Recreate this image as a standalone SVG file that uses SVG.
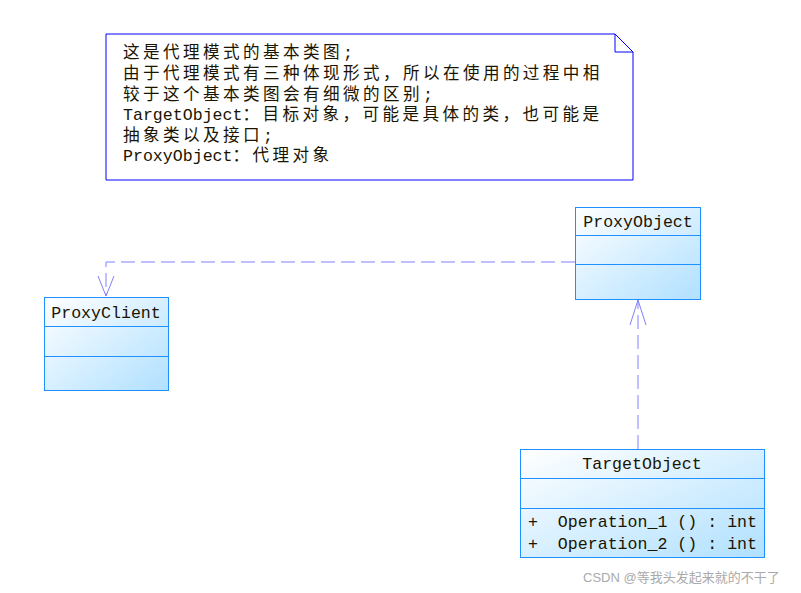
<svg xmlns="http://www.w3.org/2000/svg" width="801" height="593" viewBox="0 0 801 593">
<style>
text{font-family:"Liberation Mono","Noto Sans CJK SC",monospace;font-size:16.6px;fill:#1a1400;white-space:pre}
.z{letter-spacing:3.4px}
.box{stroke:#1e90ff;stroke-width:1;fill:url(#g)}
.ln{stroke:#1e90ff;stroke-width:1}
.c{stroke:#8080ff;stroke-width:1;fill:none;stroke-dasharray:14 6}
.ah{stroke:#8080ff;stroke-width:1;fill:none}
</style>
<defs>
<linearGradient id="g" x1="0" y1="0" x2="1" y2="1"><stop offset="0" stop-color="#ffffff"/><stop offset="1" stop-color="#b0e0ff"/></linearGradient>
</defs>
<rect width="801" height="593" fill="#fff"/>
<g id="note">
<path d="M106,34H615L633,52V180H106Z" fill="#fff" stroke="#0000ff"/>
<path d="M615,34V52H633" fill="none" stroke="#0000ff"/>
<text x="123" y="58"><tspan class="z">这是代理模式的基本类图</tspan>;</text>
<text x="123" y="79" class="z">由于代理模式有三种体现形式，所以在使用的过程中相</text>
<text x="123" y="100"><tspan class="z">较于这个基本类图会有细微的区别</tspan>;</text>
<text x="123" y="120">TargetObject<tspan class="z">：目标对象，可能是具体的类，也可能是</tspan></text>
<text x="123" y="141"><tspan class="z">抽象类以及接口</tspan>;</text>
<text x="123" y="161">ProxyObject<tspan class="z">：代理对象</tspan></text>
</g>
<g id="connectors">
<path class="c" d="M575,262H106V296"/>
<path class="ah" d="M98,276L106,296L114,276"/>
<path class="c" d="M638,449V300"/>
<path class="ah" d="M630,325L638,300L646,325"/>
</g>
<g id="ProxyObject">
<rect class="box" x="575.5" y="207.5" width="125" height="92"/>
<line class="ln" x1="575" y1="235.5" x2="700" y2="235.5"/>
<line class="ln" x1="575" y1="264.5" x2="700" y2="264.5"/>
<text x="638" y="227" text-anchor="middle">ProxyObject</text>
</g>
<g id="ProxyClient">
<rect class="box" x="44.5" y="297.5" width="124" height="93"/>
<line class="ln" x1="44" y1="326.5" x2="168" y2="326.5"/>
<line class="ln" x1="44" y1="356.5" x2="168" y2="356.5"/>
<text x="106" y="318" text-anchor="middle">ProxyClient</text>
</g>
<g id="TargetObject">
<rect class="box" x="520.5" y="449.5" width="244" height="108"/>
<line class="ln" x1="520" y1="478.5" x2="764" y2="478.5"/>
<line class="ln" x1="520" y1="508.5" x2="764" y2="508.5"/>
<text x="642" y="469" text-anchor="middle">TargetObject</text>
<text x="528" y="527">+  Operation_1 () : int</text>
<text x="528" y="549">+  Operation_2 () : int</text>
</g>
<text x="583" y="582" style="font-family:'Liberation Sans','Noto Sans CJK SC',sans-serif;font-size:13px;fill:#aaa;white-space:normal">CSDN @等我头发起来就的不干了</text>
</svg>
